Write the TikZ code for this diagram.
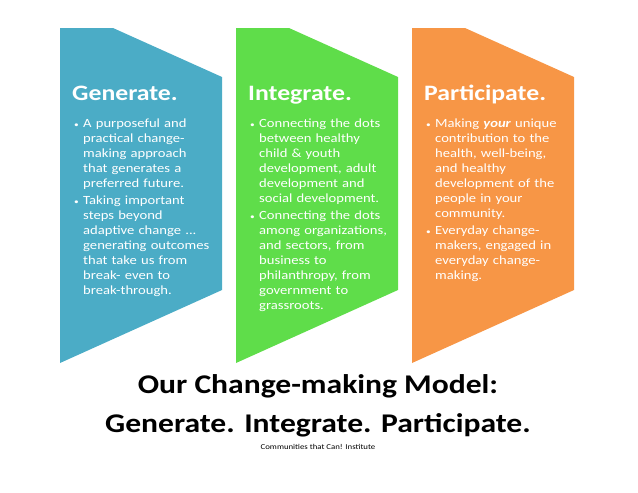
\documentclass[tikz,border=0pt]{standalone}
\usepackage{fontspec}
\setmainfont{Carlito}[FakeStretch=1.17]
\definecolor{cblue}{HTML}{4BACC6}
\definecolor{cgreen}{HTML}{5FDD4A}
\definecolor{corange}{HTML}{F79646}
\newcommand{\bul}[1]{{\hangindent=9pt\hangafter=1\noindent\makebox[9pt][l]{\raisebox{0.5pt}{\footnotesize•}}#1\par}}
\begin{document}
\begin{tikzpicture}[x=1pt,y=-1pt,
  head/.style={anchor=base west,text=white,font=\fontsize{22}{26}\selectfont\bfseries,inner sep=0},
  body/.style={anchor=north west,text=white,font=\fontsize{12.5}{15}\selectfont,inner sep=0,text width=150pt,align=left}]
\useasboundingbox (0,0) rectangle (638,493);
\foreach \x/\c/\n in {60/cblue/a,236/cgreen/b,412/corange/c}{
  \fill[\c] (\x,28) -- ++(53,0) -- ++(109,49) -- ++(0,213) -- (\x,363) -- cycle;
}
\node[head] (h1) at (72,100) {Generate.};
\node[head] (h2) at (248,100) {Integrate.};
\node[head] (h3) at (424,100) {Participate.};
\node[body] (t1) at (74,119) {\bul{A purposeful and\newline practical change-\newline making approach\newline that generates a\newline preferred future.}\vspace{2pt}\bul{Taking important\newline steps beyond\newline adaptive change ...\newline generating outcomes\newline that take us from\newline break- even to\newline break-through.}};
\node[body] (t2) at (250,119) {\bul{Connecting the dots\newline between healthy\newline child \& youth\newline development, adult\newline development and\newline social development.}\vspace{2pt}\bul{Connecting the dots\newline among organizations,\newline and sectors, from\newline business to\newline philanthropy, from\newline government to\newline grassroots.}};
\node[body] (t3) at (426,119) {\bul{Making \textbf{\textit{your}} unique\newline contribution to the\newline health, well-being,\newline and healthy\newline development of the\newline people in your\newline community.}\vspace{2pt}\bul{Everyday change-\newline makers, engaged in\newline everyday change-\newline making.}};
\node[font=\fontsize{27}{39}\selectfont\bfseries,align=center,inner sep=0] (m) at (318,406) {Our Change-making Model:\\Generate. Integrate. Participate.};
\node[font=\fontsize{7.5}{9}\selectfont,inner sep=0] (f) at (318,447) {Communities that Can! Institute};
\end{tikzpicture}
\end{document}
